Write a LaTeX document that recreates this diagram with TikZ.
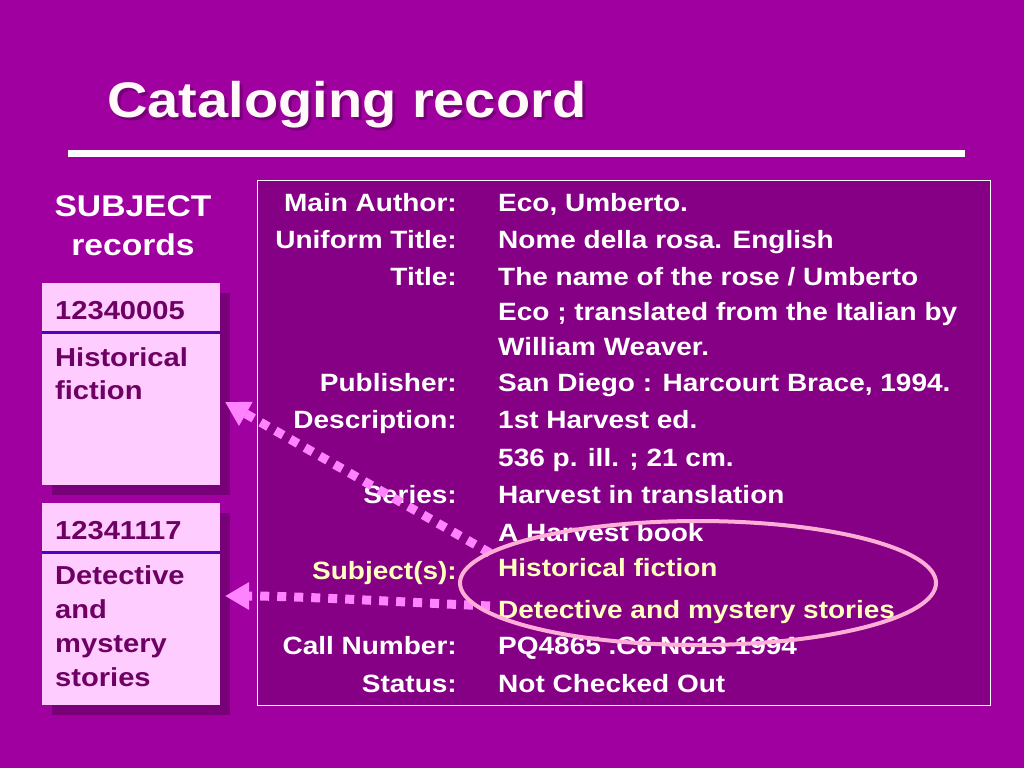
\documentclass[tikz,border=0pt]{standalone}
\usepackage{fontspec}
\setmainfont[FakeStretch=1.12]{Liberation Sans}
\usetikzlibrary{arrows.meta}
\definecolor{bgc}{RGB}{160,0,160}
\definecolor{panel}{RGB}{134,0,134}
\definecolor{boxc}{RGB}{255,204,255}
\definecolor{shad}{RGB}{120,0,120}
\definecolor{boxtxt}{RGB}{110,0,100}
\definecolor{hline}{RGB}{80,0,190}
\definecolor{subj}{RGB}{255,255,190}
\definecolor{arr}{RGB}{255,130,255}
\definecolor{ell}{RGB}{255,175,215}
\begin{document}
\begin{tikzpicture}[x=1pt,y=-1pt,
  lab/.style={anchor=base east,text=white,font=\bfseries\fontsize{25}{28}\selectfont,inner sep=0},
  val/.style={anchor=base west,text=white,font=\bfseries\fontsize{25}{28}\selectfont,inner sep=0},
  bt/.style={anchor=base west,text=boxtxt,font=\bfseries\fontsize{26}{30}\selectfont,inner sep=0},
  dots/.style={draw=arr,line width=9pt,dash pattern=on 9pt off 8pt,-{Triangle[length=24pt,width=26pt]}}]
\useasboundingbox (0,0) rectangle (1024,768);
\fill[bgc] (0,0) rectangle (1024,768);
% title
\node[anchor=base west,inner sep=0,text=shad,font=\bfseries\fontsize{50}{56}\selectfont] at (110,120) {Cataloging record};
\node (title)[anchor=base west,inner sep=0,text=white!90!pink,font=\bfseries\fontsize{50}{56}\selectfont] at (107,117) {Cataloging record};
\fill[white] (68,150) rectangle (965,157);
% panel
\draw[white,line width=1pt,fill=panel] (257,180) rectangle (990,705);
% subject heading
\node (sh)[text=white,font=\bfseries\fontsize{30}{39}\selectfont,align=center] at (133,226) {SUBJECT\\records};
% boxes
\foreach \y/\n in {283/b1,503/b2}{
  \fill[shad] (52,\y+10) rectangle (230,\y+212);
  \fill[boxc] (42,\y) rectangle (220,\y+202);
  \fill[hline] (42,\y+48) rectangle (220,\y+51);
}
\node (h1)[bt] at (55,319) {12340005};
\node (t1)[bt] at (55,366) {Historical};
\node (t1b)[bt] at (55,399) {fiction};
\node (h2)[bt] at (55,539) {12341117};
\node (t2)[bt] at (55,584) {Detective};
\node (t2b)[bt] at (55,618) {and};
\node (t2c)[bt] at (55,652) {mystery};
\node (t2d)[bt] at (55,686) {stories};
% labels
\node[lab] at (457,211) {Main Author:};
\node[lab] at (457,248) {Uniform Title:};
\node[lab] at (457,285) {Title:};
\node[lab] at (457,391) {Publisher:};
\node[lab] at (457,428) {Description:};
\node[lab] at (457,503) {Series:};
\node[lab,text=subj] at (457,579) {Subject(s):};
\node[lab] at (457,654) {Call Number:};
\node[lab] at (457,692) {Status:};
% values
\node[val] at (498,211) {Eco, Umberto.};
\node[val] at (498,248) {Nome della rosa. English};
\node[val] at (498,285) {The name of the rose / Umberto};
\node[val] at (498,320) {Eco ; translated from the Italian by};
\node[val] at (498,355) {William Weaver.};
\node[val] at (498,391) {San Diego : Harcourt Brace, 1994.};
\node[val] at (498,428) {1st Harvest ed.};
\node[val] at (498,466) {536 p. ill. ; 21 cm.};
\node[val] at (498,503) {Harvest in translation};
\node[val] at (498,541) {A Harvest book};
\node (s1)[val,text=subj] at (498,576) {Historical fiction};
\node (s2)[val,text=subj] at (498,618) {Detective and mystery stories};
\node[val] at (498,654) {PQ4865 .C6 N613 1994};
\node[val] at (498,692) {Not Checked Out};
% connectors
\coordinate (a1) at (490,553);
\coordinate (a2) at (490,606);
\draw[dots] (a1) -- (225,402);
\draw[dots] (a2) .. controls (400,602) and (300,596) .. (225,596);
% ellipse
\draw[ell,line width=4pt] (698,583) ellipse [x radius=238,y radius=62];
\end{tikzpicture}
\end{document}
